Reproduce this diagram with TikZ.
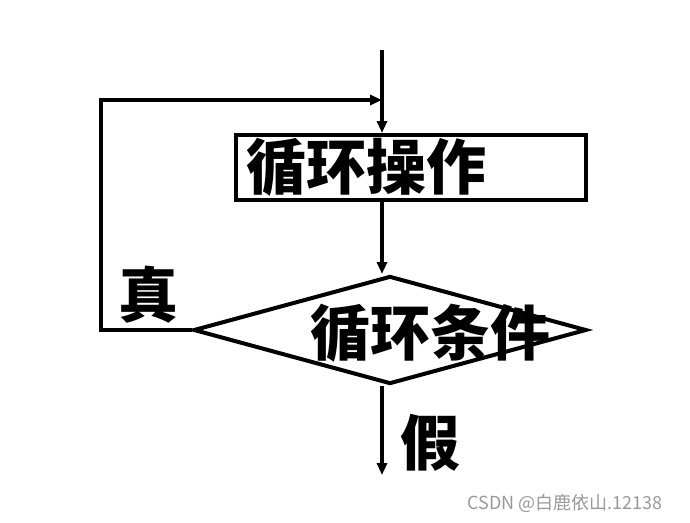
\documentclass[tikz,border=0pt]{standalone}
\usepackage{fontspec}
\usepackage{xcolor}
\usetikzlibrary{shapes.geometric, arrows.meta}
\newfontfamily\cjk{Noto Sans CJK SC}
\tikzstyle{process} = [rectangle, 
minimum width=350pt, 
minimum height=65pt, 
inner xsep=10pt, 
inner ysep=0pt, 
text width=330pt, 
align=left, 
line width=4pt, 
draw=black, 
font=\cjk\bfseries\fontsize{60pt}{60pt}\selectfont]
\tikzstyle{decision} = [diamond, 
minimum width=393pt, 
minimum height=108pt, 
inner sep=0pt, 
line width=4pt, 
draw=black]
\tikzstyle{arrow} = [line width=3.5pt,-{Triangle[length=12pt,width=10pt]}]
\tikzstyle{label} = [font=\cjk\bfseries\fontsize{60pt}{60pt}\selectfont, inner sep=0pt]

\begin{document}
\begin{tikzpicture}[x=1pt,y=-1pt]
\useasboundingbox (0,0) rectangle (690,522);

\coordinate (start) at (382,50);
\coordinate (loopcorner) at (101,100);
\coordinate (end) at (382,475);
\node (body) [process] at (411,167.5) {循环操作};
\node (cond) [decision] at (390,330) {};
\node (condtext) [label] at (430,333) {循环条件};
\node (true) [label] at (148,295) {真};
\node (false) [label] at (430,443) {假};

\draw [arrow] (start) -- (start |- body.north);
\draw [arrow] (start |- body.south) -- (start |- cond.north);
\draw [arrow] (start |- cond.south) -- (end);
\draw [arrow] (cond.west) -| (loopcorner) -- (start |- loopcorner);

% watermark
\node (mark) [font=\cjk\fontsize{18pt}{20pt}\selectfont, text=gray!80] at (565,503) {CSDN @白鹿依山.12138};

\end{tikzpicture}
\end{document}
